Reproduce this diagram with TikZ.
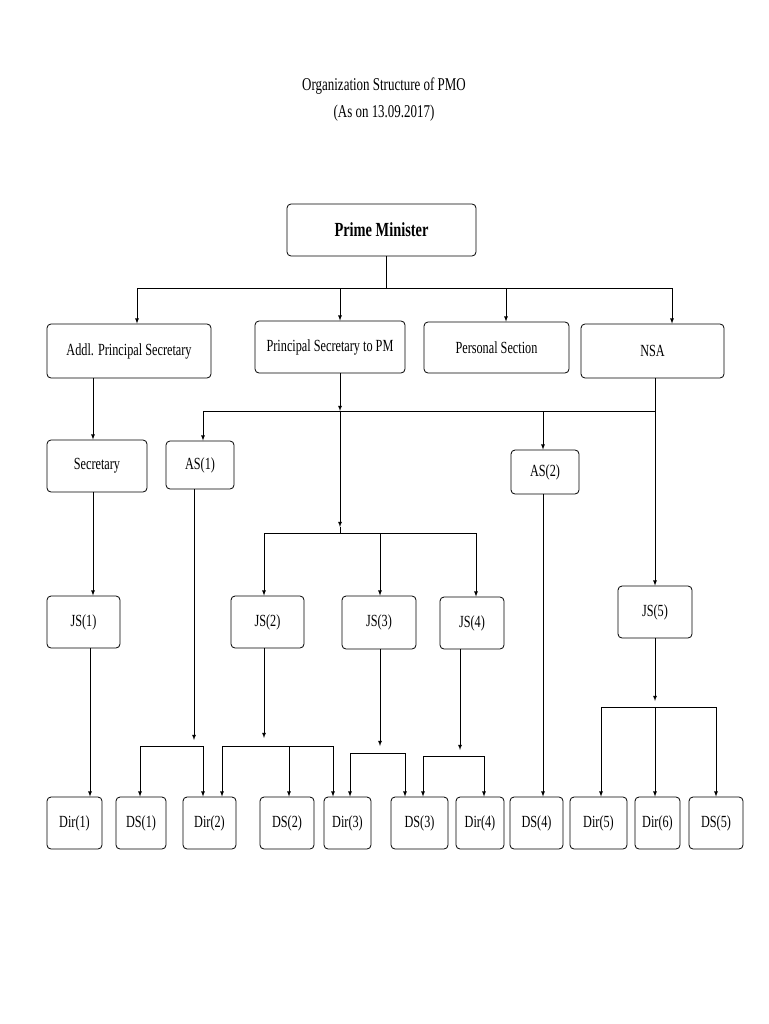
\documentclass[tikz,border=0pt]{standalone}
\usepackage{fontspec}
\setmainfont{Liberation Serif}[FakeStretch=0.72]
\begin{document}
\begin{tikzpicture}[x=1pt,y=-1pt,
  box/.style={draw,thick,rounded corners=4pt,inner sep=0pt,font=\fontsize{17}{19}\selectfont},
  ln/.style={draw,line width=0.8pt},
  arr/.style={ln,-latex}]
\useasboundingbox (0,0) rectangle (768,1024);
\newcommand\bx[6]{\node[box,minimum width=#4-#3,minimum height=#6-#5] (#1) at ({(#3+#4)/2},{(#5+#6)/2}) {#2};}
\node[font=\fontsize{18}{20}\selectfont] (t1) at (384,86) {Organization Structure of PMO};
\node[font=\fontsize{18}{20}\selectfont] (t2) at (384,113) {(As on 13.09.2017)};
\bx{pm}{\fontsize{20}{22}\selectfont\bfseries Prime Minister}{287}{476}{204}{256}
\bx{aps}{Addl. Principal Secretary}{47}{211}{324}{378}
\bx{ps}{Principal Secretary to PM}{255}{405}{321}{373}
\bx{pers}{Personal Section}{424}{569}{322}{373}
\bx{nsa}{NSA}{581}{724}{324}{378}
\bx{sec}{Secretary}{47}{147}{440}{492}
\bx{as1}{AS(1)}{166}{234}{441}{489}
\bx{as2}{AS(2)}{511}{579}{450}{494}
\bx{js1}{JS(1)}{47}{120}{596}{648}
\bx{js2}{JS(2)}{231}{304}{596}{648}
\bx{js3}{JS(3)}{342}{416}{596}{649}
\bx{js4}{JS(4)}{440}{504}{597}{649}
\bx{js5}{JS(5)}{618}{692}{586}{638}
\bx{dir1}{Dir(1)}{47}{102}{797}{849}
\bx{ds1}{DS(1)}{116}{166}{797}{849}
\bx{dir2}{Dir(2)}{183}{236}{797}{849}
\bx{ds2}{DS(2)}{260}{314}{797}{849}
\bx{dir3}{Dir(3)}{324}{371}{797}{849}
\bx{ds3}{DS(3)}{391}{448}{797}{849}
\bx{dir4}{Dir(4)}{456}{504}{797}{849}
\bx{ds4}{DS(4)}{510}{563}{797}{849}
\bx{dir5}{Dir(5)}{570}{627}{797}{849}
\bx{dir6}{Dir(6)}{635}{680}{797}{849}
\bx{ds5}{DS(5)}{689}{743}{797}{849}
% level 1
\coordinate (b1) at (386,288);
\draw[ln] (pm.south -| b1) -- (b1);
\draw[ln] (137,288) coordinate (b1l) -- (672,288) coordinate (b1r);
\foreach \x/\n in {137/aps,340/ps,506/pers,672/nsa}
  \draw[arr] (\x,288) -- (\x,0 |- \n.north);
% level 2
\coordinate (b2) at (340,411);
\draw[arr] (ps.south -| b2) -- (b2);
\draw[ln] (203,411) -- (655,411);
\draw[arr] (203,411) -- (203,0 |- as1.north);
\draw[arr] (543,411) -- (543,0 |- as2.north);
\draw[arr] (nsa.south -| 655,0) -- (655,0 |- js5.north);
\draw[arr] (aps.south -| 93,0) -- (93,0 |- sec.north);
\draw[arr] (sec.south -| 93,0) -- (93,0 |- js1.north);
% level 3
\draw[arr] (b2) -- (340,527) coordinate (b3);
\draw[ln] (264,533) -- (476,533);
\draw[ln] (340,527) -- (340,533);
\draw[arr] (264,533) -- (264,0 |- js2.north);
\draw[arr] (380,533) -- (380,0 |- js3.north);
\draw[arr] (476,533) -- (476,0 |- js4.north);
% bottom
\draw[arr] (js1.south -| 90,0) -- (90,0 |- dir1.north);
\draw[arr] (as1.south -| 194,0) -- (194,740);
\draw[ln] (140,746) -- (203,746);
\draw[arr] (140,746) -- (140,0 |- ds1.north);
\draw[arr] (203,746) -- (203,0 |- dir2.north);
\draw[arr] (js2.south -| 264,0) -- (264,738);
\draw[ln] (222,746) -- (333,746);
\draw[arr] (222,746) -- (222,0 |- dir2.north);
\draw[arr] (289,746) -- (289,0 |- ds2.north);
\draw[arr] (333,746) -- (333,0 |- dir3.north);
\draw[arr] (js3.south -| 380,0) -- (380,746);
\draw[ln] (350,753) -- (405,753);
\draw[arr] (350,753) -- (350,0 |- dir3.north);
\draw[arr] (405,753) -- (405,0 |- ds3.north);
\draw[arr] (js4.south -| 460,0) -- (460,750);
\draw[ln] (423,756) -- (484,756);
\draw[arr] (423,756) -- (423,0 |- ds3.north);
\draw[arr] (484,756) -- (484,0 |- dir4.north);
\draw[arr] (as2.south -| 543,0) -- (543,0 |- ds4.north);
\draw[arr] (js5.south -| 655,0) -- (655,701);
\draw[ln] (601,707) -- (716,707);
\draw[arr] (601,707) -- (601,0 |- dir5.north);
\draw[arr] (655,707) -- (655,0 |- dir6.north);
\draw[arr] (716,707) -- (716,0 |- ds5.north);
\end{tikzpicture}
\end{document}
